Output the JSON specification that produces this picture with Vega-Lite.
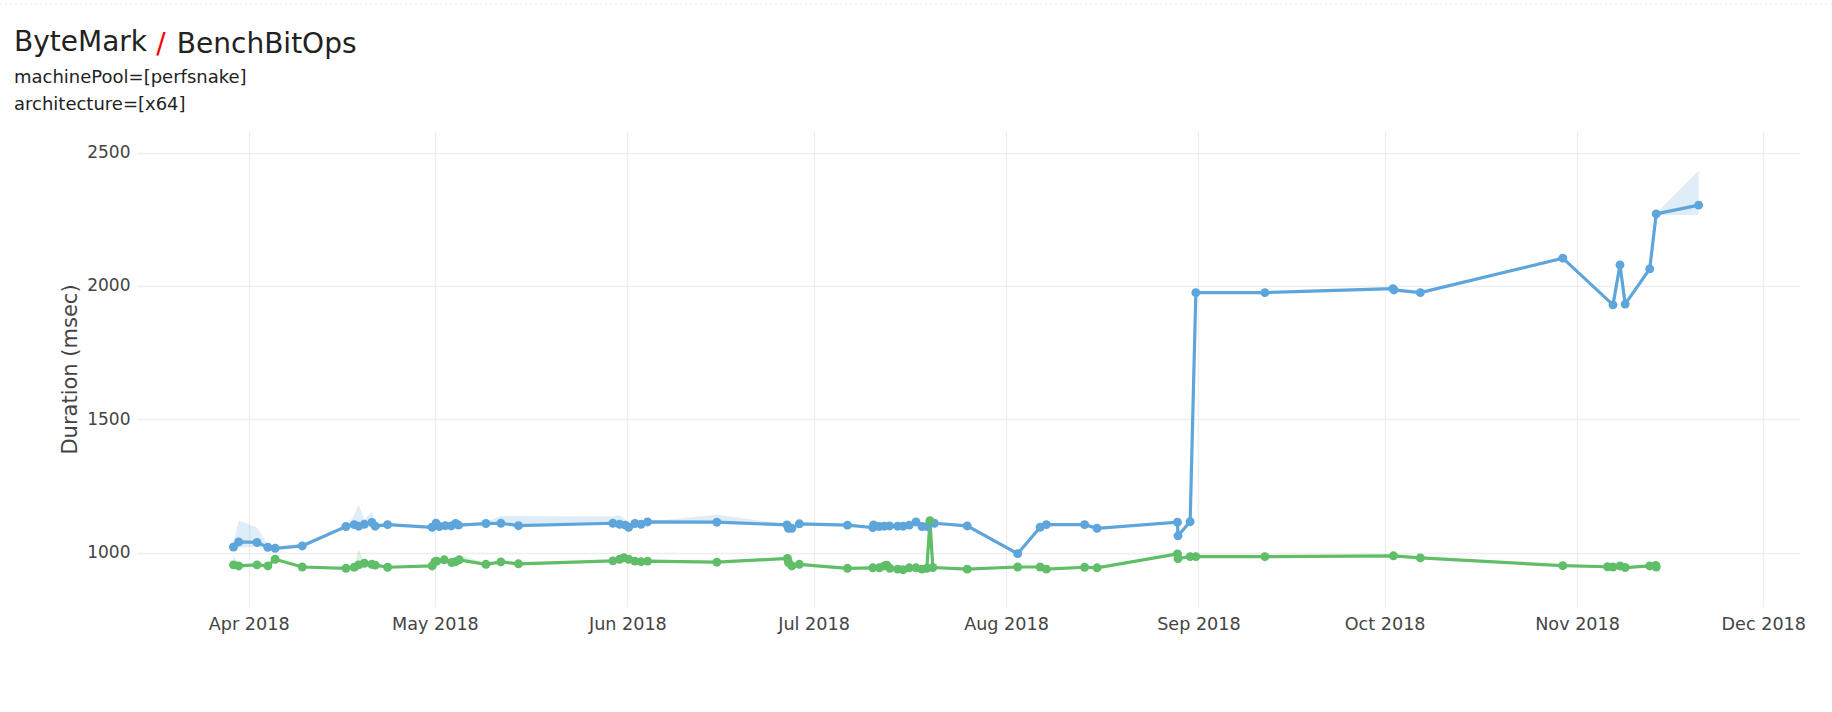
{
  "$schema": "https://vega.github.io/schema/vega-lite/v6.json",
  "width": 1663,
  "height": 476,
  "autosize": {"type": "none"},
  "padding": {"left": 137, "top": 131, "right": 32, "bottom": 105},
  "background": "white",
  "title": {
    "text": "ByteMark",
    "subtitle": ["machinePool=[perfsnake]", "architecture=[x64]"],
    "anchor": "start",
    "frame": "group",
    "dx": -123,
    "offset": -110.7,
    "font": "DejaVu Sans",
    "fontSize": 28,
    "fontWeight": "normal",
    "color": "#222222",
    "subtitleFont": "DejaVu Sans",
    "subtitleFontSize": 18,
    "subtitleColor": "#222222",
    "subtitleLineHeight": 27,
    "subtitlePadding": 12.4
  },
  "config": {"view": {"stroke": null}},
  "layer": [
    {
      "data": {
        "values": [
          {"series": "blue", "t": "2018-03-29T13:00Z", "v": 1021, "lo": 1015, "hi": 1035},
          {"series": "blue", "t": "2018-03-30T09:00Z", "v": 1040, "lo": 1019, "hi": 1120},
          {"series": "blue", "t": "2018-04-02T08:00Z", "v": 1038, "lo": 1022, "hi": 1094},
          {"series": "blue", "t": "2018-04-04T02:00Z", "v": 1020, "lo": 1018, "hi": 1029},
          {"series": "blue", "t": "2018-04-05T06:00Z", "v": 1016, "lo": 1012, "hi": 1020},
          {"series": "blue", "t": "2018-04-09T15:00Z", "v": 1025, "lo": 1022, "hi": 1035},
          {"series": "blue", "t": "2018-04-16T16:00Z", "v": 1098, "lo": 1095, "hi": 1100},
          {"series": "blue", "t": "2018-04-18T00:00Z", "v": 1105, "lo": 1100, "hi": 1141},
          {"series": "blue", "t": "2018-04-18T17:00Z", "v": 1099, "lo": 1097, "hi": 1181},
          {"series": "blue", "t": "2018-04-19T15:00Z", "v": 1106, "lo": 1102, "hi": 1122},
          {"series": "blue", "t": "2018-04-20T20:00Z", "v": 1113, "lo": 1105, "hi": 1154},
          {"series": "blue", "t": "2018-04-21T09:00Z", "v": 1099, "lo": 1097, "hi": 1116},
          {"series": "blue", "t": "2018-04-23T09:00Z", "v": 1105, "lo": 1103, "hi": 1107},
          {"series": "blue", "t": "2018-04-30T13:00Z", "v": 1095, "lo": 1093, "hi": 1097},
          {"series": "blue", "t": "2018-05-01T04:00Z", "v": 1110, "lo": 1108, "hi": 1112},
          {"series": "blue", "t": "2018-05-01T17:00Z", "v": 1098, "lo": 1097, "hi": 1100},
          {"series": "blue", "t": "2018-05-02T16:00Z", "v": 1101, "lo": 1100, "hi": 1103},
          {"series": "blue", "t": "2018-05-03T15:00Z", "v": 1100, "lo": 1099, "hi": 1102},
          {"series": "blue", "t": "2018-05-04T08:00Z", "v": 1109, "lo": 1107, "hi": 1111},
          {"series": "blue", "t": "2018-05-04T19:00Z", "v": 1103, "lo": 1102, "hi": 1105},
          {"series": "blue", "t": "2018-05-09T05:00Z", "v": 1109, "lo": 1106, "hi": 1116},
          {"series": "blue", "t": "2018-05-11T15:00Z", "v": 1110, "lo": 1106, "hi": 1137},
          {"series": "blue", "t": "2018-05-14T11:00Z", "v": 1101, "lo": 1098, "hi": 1137},
          {"series": "blue", "t": "2018-05-29T16:00Z", "v": 1110, "lo": 1108, "hi": 1135},
          {"series": "blue", "t": "2018-05-30T18:00Z", "v": 1106, "lo": 1104, "hi": 1140},
          {"series": "blue", "t": "2018-05-31T16:00Z", "v": 1103, "lo": 1101, "hi": 1125},
          {"series": "blue", "t": "2018-06-01T05:00Z", "v": 1095, "lo": 1094, "hi": 1110},
          {"series": "blue", "t": "2018-06-02T05:00Z", "v": 1109, "lo": 1107, "hi": 1111},
          {"series": "blue", "t": "2018-06-03T05:00Z", "v": 1106, "lo": 1104, "hi": 1108},
          {"series": "blue", "t": "2018-06-04T06:00Z", "v": 1115, "lo": 1113, "hi": 1117},
          {"series": "blue", "t": "2018-06-15T10:00Z", "v": 1114, "lo": 1112, "hi": 1142},
          {"series": "blue", "t": "2018-06-26T17:00Z", "v": 1104, "lo": 1102, "hi": 1106},
          {"series": "blue", "t": "2018-06-26T23:00Z", "v": 1091, "lo": 1089, "hi": 1093},
          {"series": "blue", "t": "2018-06-27T12:00Z", "v": 1091, "lo": 1090, "hi": 1093},
          {"series": "blue", "t": "2018-06-28T17:00Z", "v": 1108, "lo": 1106, "hi": 1110},
          {"series": "blue", "t": "2018-07-06T11:00Z", "v": 1103, "lo": 1101, "hi": 1105},
          {"series": "blue", "t": "2018-07-10T13:00Z", "v": 1094, "lo": 1092, "hi": 1096},
          {"series": "blue", "t": "2018-07-10T16:00Z", "v": 1104, "lo": 1102, "hi": 1106},
          {"series": "blue", "t": "2018-07-11T14:00Z", "v": 1098, "lo": 1096, "hi": 1100},
          {"series": "blue", "t": "2018-07-12T09:00Z", "v": 1099, "lo": 1097, "hi": 1101},
          {"series": "blue", "t": "2018-07-13T06:00Z", "v": 1100, "lo": 1098, "hi": 1102},
          {"series": "blue", "t": "2018-07-14T13:00Z", "v": 1099, "lo": 1097, "hi": 1101},
          {"series": "blue", "t": "2018-07-15T10:00Z", "v": 1099, "lo": 1097, "hi": 1101},
          {"series": "blue", "t": "2018-07-16T10:00Z", "v": 1103, "lo": 1101, "hi": 1105},
          {"series": "blue", "t": "2018-07-17T12:00Z", "v": 1115, "lo": 1113, "hi": 1117},
          {"series": "blue", "t": "2018-07-18T11:00Z", "v": 1098, "lo": 1096, "hi": 1100},
          {"series": "blue", "t": "2018-07-19T06:00Z", "v": 1098, "lo": 1096, "hi": 1100},
          {"series": "blue", "t": "2018-07-20T11:00Z", "v": 1110, "lo": 1108, "hi": 1112},
          {"series": "blue", "t": "2018-07-25T18:00Z", "v": 1100, "lo": 1098, "hi": 1102},
          {"series": "blue", "t": "2018-08-02T21:00Z", "v": 996, "lo": 994, "hi": 998},
          {"series": "blue", "t": "2018-08-06T12:00Z", "v": 1095, "lo": 1093, "hi": 1097},
          {"series": "blue", "t": "2018-08-07T12:00Z", "v": 1105, "lo": 1103, "hi": 1107},
          {"series": "blue", "t": "2018-08-13T16:00Z", "v": 1105, "lo": 1103, "hi": 1107},
          {"series": "blue", "t": "2018-08-15T16:00Z", "v": 1091, "lo": 1089, "hi": 1093},
          {"series": "blue", "t": "2018-08-28T15:00Z", "v": 1114, "lo": 1112, "hi": 1116},
          {"series": "blue", "t": "2018-08-28T17:00Z", "v": 1063, "lo": 1061, "hi": 1065},
          {"series": "blue", "t": "2018-08-30T16:00Z", "v": 1116, "lo": 1114, "hi": 1118},
          {"series": "blue", "t": "2018-08-31T14:00Z", "v": 1975, "lo": 1973, "hi": 1977},
          {"series": "blue", "t": "2018-09-11T17:00Z", "v": 1975, "lo": 1973, "hi": 1977},
          {"series": "blue", "t": "2018-10-02T08:00Z", "v": 1990, "lo": 1988, "hi": 1992},
          {"series": "blue", "t": "2018-10-02T12:00Z", "v": 1985, "lo": 1983, "hi": 1987},
          {"series": "blue", "t": "2018-10-06T18:00Z", "v": 1975, "lo": 1973, "hi": 1977},
          {"series": "blue", "t": "2018-10-29T17:00Z", "v": 2104, "lo": 2102, "hi": 2106},
          {"series": "blue", "t": "2018-11-06T19:00Z", "v": 1929, "lo": 1927, "hi": 1931},
          {"series": "blue", "t": "2018-11-07T22:00Z", "v": 2079, "lo": 2077, "hi": 2081},
          {"series": "blue", "t": "2018-11-08T18:00Z", "v": 1932, "lo": 1930, "hi": 1934},
          {"series": "blue", "t": "2018-11-12T17:00Z", "v": 2064, "lo": 2062, "hi": 2066},
          {"series": "blue", "t": "2018-11-13T18:00Z", "v": 2270, "lo": 2265, "hi": 2272},
          {"series": "blue", "t": "2018-11-20T14:00Z", "v": 2303, "lo": 2266, "hi": 2432},
          {"series": "green", "t": "2018-03-29T13:00Z", "v": 954, "lo": 950, "hi": 991},
          {"series": "green", "t": "2018-03-30T09:00Z", "v": 950, "lo": 948, "hi": 952},
          {"series": "green", "t": "2018-04-02T08:00Z", "v": 954, "lo": 952, "hi": 956},
          {"series": "green", "t": "2018-04-04T02:00Z", "v": 950, "lo": 948, "hi": 952},
          {"series": "green", "t": "2018-04-05T06:00Z", "v": 975, "lo": 973, "hi": 977},
          {"series": "green", "t": "2018-04-09T15:00Z", "v": 946, "lo": 944, "hi": 948},
          {"series": "green", "t": "2018-04-16T16:00Z", "v": 941, "lo": 939, "hi": 943},
          {"series": "green", "t": "2018-04-18T00:00Z", "v": 945, "lo": 943, "hi": 947},
          {"series": "green", "t": "2018-04-18T17:00Z", "v": 954, "lo": 950, "hi": 1013},
          {"series": "green", "t": "2018-04-19T15:00Z", "v": 960, "lo": 956, "hi": 964},
          {"series": "green", "t": "2018-04-20T20:00Z", "v": 956, "lo": 954, "hi": 958},
          {"series": "green", "t": "2018-04-21T09:00Z", "v": 953, "lo": 951, "hi": 955},
          {"series": "green", "t": "2018-04-23T09:00Z", "v": 945, "lo": 943, "hi": 947},
          {"series": "green", "t": "2018-04-30T13:00Z", "v": 950, "lo": 948, "hi": 952},
          {"series": "green", "t": "2018-05-01T00:00Z", "v": 966, "lo": 964, "hi": 968},
          {"series": "green", "t": "2018-05-01T07:00Z", "v": 968, "lo": 966, "hi": 970},
          {"series": "green", "t": "2018-05-02T12:00Z", "v": 973, "lo": 971, "hi": 975},
          {"series": "green", "t": "2018-05-03T17:00Z", "v": 963, "lo": 961, "hi": 965},
          {"series": "green", "t": "2018-05-04T08:00Z", "v": 966, "lo": 964, "hi": 968},
          {"series": "green", "t": "2018-05-04T22:00Z", "v": 973, "lo": 971, "hi": 991},
          {"series": "green", "t": "2018-05-09T05:00Z", "v": 956, "lo": 954, "hi": 960},
          {"series": "green", "t": "2018-05-11T15:00Z", "v": 965, "lo": 963, "hi": 967},
          {"series": "green", "t": "2018-05-14T11:00Z", "v": 958, "lo": 956, "hi": 960},
          {"series": "green", "t": "2018-05-29T16:00Z", "v": 969, "lo": 967, "hi": 973},
          {"series": "green", "t": "2018-05-30T18:00Z", "v": 975, "lo": 973, "hi": 977},
          {"series": "green", "t": "2018-05-31T10:00Z", "v": 981, "lo": 979, "hi": 983},
          {"series": "green", "t": "2018-06-01T05:00Z", "v": 975, "lo": 973, "hi": 977},
          {"series": "green", "t": "2018-06-02T05:00Z", "v": 968, "lo": 966, "hi": 970},
          {"series": "green", "t": "2018-06-03T05:00Z", "v": 966, "lo": 964, "hi": 968},
          {"series": "green", "t": "2018-06-04T06:00Z", "v": 968, "lo": 966, "hi": 970},
          {"series": "green", "t": "2018-06-15T10:00Z", "v": 964, "lo": 962, "hi": 966},
          {"series": "green", "t": "2018-06-26T19:00Z", "v": 978, "lo": 976, "hi": 980},
          {"series": "green", "t": "2018-06-26T23:00Z", "v": 963, "lo": 961, "hi": 965},
          {"series": "green", "t": "2018-06-27T12:00Z", "v": 950, "lo": 948, "hi": 952},
          {"series": "green", "t": "2018-06-28T17:00Z", "v": 956, "lo": 954, "hi": 958},
          {"series": "green", "t": "2018-07-06T11:00Z", "v": 941, "lo": 939, "hi": 943},
          {"series": "green", "t": "2018-07-10T13:00Z", "v": 943, "lo": 941, "hi": 945},
          {"series": "green", "t": "2018-07-11T14:00Z", "v": 943, "lo": 941, "hi": 945},
          {"series": "green", "t": "2018-07-12T09:00Z", "v": 950, "lo": 948, "hi": 952},
          {"series": "green", "t": "2018-07-12T19:00Z", "v": 953, "lo": 951, "hi": 955},
          {"series": "green", "t": "2018-07-13T07:00Z", "v": 941, "lo": 939, "hi": 943},
          {"series": "green", "t": "2018-07-14T13:00Z", "v": 938, "lo": 936, "hi": 940},
          {"series": "green", "t": "2018-07-15T10:00Z", "v": 936, "lo": 934, "hi": 938},
          {"series": "green", "t": "2018-07-16T10:00Z", "v": 943, "lo": 941, "hi": 945},
          {"series": "green", "t": "2018-07-17T12:00Z", "v": 943, "lo": 941, "hi": 945},
          {"series": "green", "t": "2018-07-18T11:00Z", "v": 938, "lo": 936, "hi": 940},
          {"series": "green", "t": "2018-07-19T06:00Z", "v": 941, "lo": 939, "hi": 943},
          {"series": "green", "t": "2018-07-19T18:00Z", "v": 1120, "lo": 1118, "hi": 1122},
          {"series": "green", "t": "2018-07-20T05:00Z", "v": 944, "lo": 942, "hi": 946},
          {"series": "green", "t": "2018-07-25T18:00Z", "v": 938, "lo": 936, "hi": 940},
          {"series": "green", "t": "2018-08-02T21:00Z", "v": 946, "lo": 944, "hi": 948},
          {"series": "green", "t": "2018-08-06T12:00Z", "v": 946, "lo": 944, "hi": 948},
          {"series": "green", "t": "2018-08-07T12:00Z", "v": 938, "lo": 936, "hi": 940},
          {"series": "green", "t": "2018-08-13T16:00Z", "v": 945, "lo": 943, "hi": 947},
          {"series": "green", "t": "2018-08-15T16:00Z", "v": 943, "lo": 941, "hi": 945},
          {"series": "green", "t": "2018-08-28T15:00Z", "v": 995, "lo": 993, "hi": 997},
          {"series": "green", "t": "2018-08-28T17:00Z", "v": 978, "lo": 976, "hi": 980},
          {"series": "green", "t": "2018-08-30T16:00Z", "v": 985, "lo": 983, "hi": 987},
          {"series": "green", "t": "2018-08-31T14:00Z", "v": 985, "lo": 983, "hi": 987},
          {"series": "green", "t": "2018-09-11T17:00Z", "v": 985, "lo": 983, "hi": 987},
          {"series": "green", "t": "2018-10-02T10:00Z", "v": 988, "lo": 986, "hi": 990},
          {"series": "green", "t": "2018-10-06T18:00Z", "v": 980, "lo": 978, "hi": 982},
          {"series": "green", "t": "2018-10-29T17:00Z", "v": 951, "lo": 949, "hi": 953},
          {"series": "green", "t": "2018-11-05T22:00Z", "v": 947, "lo": 945, "hi": 949},
          {"series": "green", "t": "2018-11-06T19:00Z", "v": 946, "lo": 944, "hi": 948},
          {"series": "green", "t": "2018-11-07T22:00Z", "v": 950, "lo": 948, "hi": 952},
          {"series": "green", "t": "2018-11-08T18:00Z", "v": 944, "lo": 942, "hi": 946},
          {"series": "green", "t": "2018-11-12T17:00Z", "v": 950, "lo": 948, "hi": 952},
          {"series": "green", "t": "2018-11-13T16:00Z", "v": 952, "lo": 950, "hi": 954},
          {"series": "green", "t": "2018-11-13T18:00Z", "v": 946, "lo": 944, "hi": 948}
        ]
      },
      "encoding": {
        "x": {
          "field": "t",
          "type": "temporal",
          "title": null,
          "scale": {"type": "utc", "domain": ["2018-03-14T00:00Z", "2018-12-06T22:00Z"]},
          "axis": {
            "format": "%b %Y",
            "tickCount": "month",
            "grid": true,
            "gridColor": "#eeeeee",
            "gridWidth": 1.4,
            "ticks": false,
            "domain": false,
            "labelFont": "DejaVu Sans",
            "labelFontSize": 17.6,
            "labelColor": "#444444",
            "labelPadding": 8,
            "labelFlush": false,
            "labelOverlap": false
          }
        },
        "color": {
          "field": "series",
          "type": "nominal",
          "legend": null,
          "scale": {"domain": ["blue", "green"], "range": ["#5DA5DA", "#60BD68"]}
        }
      },
      "layer": [
        {
          "mark": {"type": "area", "opacity": 0.2, "interpolate": "linear"},
          "encoding": {
            "y": {
              "field": "hi",
              "type": "quantitative",
              "title": "Duration (msec)",
              "scale": {"domain": [796, 2581], "nice": false, "zero": false},
              "axis": {
                "values": [1000, 1500, 2000, 2500],
                "format": "d",
                "grid": true,
                "gridColor": "#eeeeee",
                "gridWidth": 1.4,
                "ticks": false,
                "domain": false,
                "labelFont": "DejaVu Sans",
                "labelFontSize": 17,
                "labelColor": "#444444",
                "labelPadding": 7,
                "titleFont": "DejaVu Sans",
                "titleFontSize": 21,
                "titleFontWeight": "normal",
                "titleColor": "#444444",
                "titlePadding": 6
              }
            },
            "y2": {"field": "lo"}
          }
        },
        {
          "mark": {"type": "line", "strokeWidth": 3.2},
          "encoding": {"y": {"field": "v", "type": "quantitative"}}
        },
        {
          "mark": {"type": "point", "filled": true, "opacity": 1, "size": 80},
          "encoding": {"y": {"field": "v", "type": "quantitative"}}
        }
      ]
    },
    {
      "data": {"values": [{"line": "page"}]},
      "mark": {"type": "rule", "color": "#e6e6e6", "strokeDash": [2, 3], "strokeWidth": 1},
      "encoding": {
        "x": {"datum": {"year": 2018, "month": 2, "date": 19, "hours": 23, "utc": true}, "type": "temporal"},
        "x2": {"datum": {"year": 2018, "month": 12, "date": 12, "hours": 2, "utc": true}},
        "y": {"datum": 3057, "type": "quantitative"}
      }
    },
    {
      "data": {"values": [{"label": "/"}]},
      "mark": {"type": "text", "align": "left", "baseline": "alphabetic", "font": "DejaVu Sans", "fontSize": 28, "color": "#ff0000"},
      "encoding": {
        "text": {"field": "label"},
        "x": {"datum": {"year": 2018, "month": 3, "date": 17, "hours": 2, "utc": true}, "type": "temporal"},
        "y": {"datum": 2874, "type": "quantitative"}
      }
    },
    {
      "data": {"values": [{"label": "BenchBitOps"}]},
      "mark": {"type": "text", "align": "left", "baseline": "alphabetic", "font": "DejaVu Sans", "fontSize": 28, "color": "#222222"},
      "encoding": {
        "text": {"field": "label"},
        "x": {"datum": {"year": 2018, "month": 3, "date": 20, "hours": 10, "utc": true}, "type": "temporal"},
        "y": {"datum": 2874, "type": "quantitative"}
      }
    }
  ]
}
